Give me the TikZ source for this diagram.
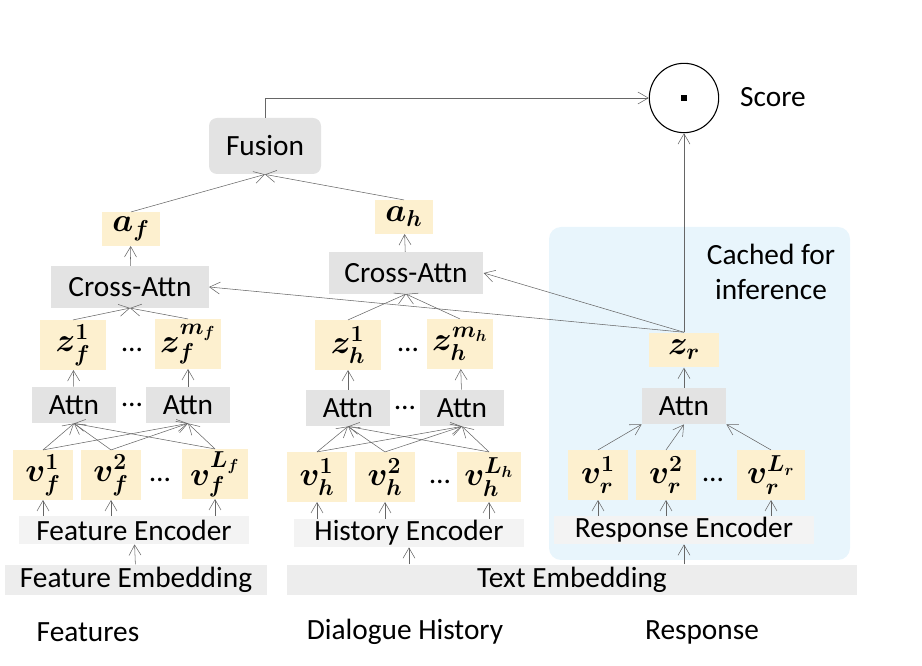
\documentclass[tikz,border=0pt]{standalone}
\usepackage{fontspec}
\setmainfont{Carlito}
\usetikzlibrary{arrows.meta}

\definecolor{boxgray}{HTML}{E3E3E3}
\definecolor{encgray}{HTML}{F3F3F3}
\definecolor{embgray}{HTML}{EDEDED}
\definecolor{vecyel}{HTML}{FDF0CF}
\definecolor{cacheblue}{HTML}{E8F5FC}

\begin{document}
\begin{tikzpicture}[x=0.75pt,y=-0.75pt,
    >={Straight Barb[angle=60:9pt]},semithick,
    every node/.style={font=\fontsize{22}{26}\selectfont},
    link/.style={->,draw=black!60,thin},
    op/.style={fill=boxgray,minimum height=31pt,inner sep=1pt},
    vec/.style={fill=vecyel,minimum width=45pt,minimum height=37pt,inner sep=0pt,
      font=\fontsize{24}{26}\selectfont\boldmath},
    enc/.style={fill=encgray,minimum height=21pt,inner sep=0pt},
    emb/.style={fill=embgray,minimum height=23pt,inner sep=0pt}]

  \useasboundingbox (0,0) rectangle (922,666);
  \fill[cacheblue,rounded corners=9pt] (549,227) rectangle (850,560);

  % score and fusion
  \node[circle,draw,thick,minimum size=52pt] (score) at (684,98) {};
  \fill (681,95) rectangle (687,101);
  \node (scoretxt) at (773,97) {Score};
  \node[op,rounded corners=6pt,minimum width=84pt,minimum height=42pt] (fusion) at (265,146) {Fusion};
  \node[vec,minimum width=44pt,minimum height=25pt] (af) at (131,229) {$a_f$};
  \node[vec,minimum width=44pt,minimum height=25pt] (ah) at (404,217) {$a_h$};
  \node[op,minimum width=118pt] (cf) at (130,287) {Cross-Attn};
  \node[op,minimum width=116pt] (ch) at (406,273) {Cross-Attn};
  \node[align=center] (cache) at (771,272) {Cached for\\inference};

  % z vectors
  \node[vec,minimum width=50pt] (zf1) at (73,345) {$z_f^1$};
  \node[vec,minimum width=50pt] (zfm) at (188,344) {$z_f^{m_f}$};
  \node at (132,350) {\dots};
  \node[vec,minimum width=50pt] (zh1) at (348,345) {$z_h^1$};
  \node[vec,minimum width=50pt] (zhm) at (460,344) {$z_h^{m_h}$};
  \node at (408,350) {\dots};
  \node[vec,minimum width=52pt,minimum height=26pt] (zr) at (684,350) {$z_r$};

  % attention
  \node[op,minimum width=63pt,minimum height=27pt] (af1) at (74,405) {Attn};
  \node[op,minimum width=63pt,minimum height=27pt] (af2) at (188,405) {Attn};
  \node at (132,405) {\dots};
  \node[op,minimum width=63pt,minimum height=27pt] (ah1) at (348,408) {Attn};
  \node[op,minimum width=63pt,minimum height=27pt] (ah2) at (462,408) {Attn};
  \node at (405,408) {\dots};
  \node[op,minimum width=63pt,minimum height=27pt] (ar) at (684,406) {Attn};

  % token vectors
  \node[vec] (vf1) at (43,475) {$v_f^1$};
  \node[vec] (vf2) at (111,475) {$v_f^2$};
  \node at (160,480) {\dots};
  \node[vec,minimum width=50pt] (vfL) at (215,474) {$v_f^{L_f}$};
  \node[vec] (vh1) at (317,477) {$v_h^1$};
  \node[vec] (vh2) at (385,477) {$v_h^2$};
  \node at (440,482) {\dots};
  \node[vec,minimum width=48pt] (vhL) at (489,477) {$v_h^{L_h}$};
  \node[vec] (vr1) at (598,475) {$v_r^1$};
  \node[vec] (vr2) at (666,475) {$v_r^2$};
  \node at (713,480) {\dots};
  \node[vec,minimum width=51pt] (vrL) at (771,475) {$v_r^{L_r}$};

  % encoders and embeddings
  \node[enc,minimum width=172pt] (fenc) at (134,530) {Feature Encoder};
  \node[enc,minimum width=172pt] (henc) at (409,533) {History Encoder};
  \node[enc,minimum width=195pt] (renc) at (684,530) {Response Encoder};
  \node[emb,minimum width=197pt] (femb) at (136,580) {Feature Embedding};
  \node[emb,minimum width=428pt] (temb) at (572,580) {Text Embedding};

  \node (lf) at (88,632) {Features};
  \node (lh) at (405,632) {Dialogue History};
  \node (lr) at (702,632) {Response};

  % connectors
  \draw[link] (femb) -- (fenc);
  \draw[link] (temb.north -| henc) -- (henc);
  \draw[link] (temb.north -| renc) -- (renc);
  \foreach \v in {vf1,vf2,vfL} \draw[link] (fenc.north -| \v) -- (\v);
  \foreach \v in {vh1,vh2,vhL} \draw[link] (henc.north -| \v) -- (\v);
  \foreach \v in {vr1,vr2,vrL} \draw[link] (renc.north -| \v) -- (\v);

  \foreach \a/\b/\c in {vf1/af1/af2,vf2/af1/af2,vfL/af1/af2,vh1/ah1/ah2,vh2/ah1/ah2,vhL/ah1/ah2}{
    \draw[link] (\a.north) -- (\b.south);
    \draw[link] (\a.north) -- (\c.south);
  }
  \draw[link] (vr1.north) -- (ar.south west);
  \draw[link] (vr2.north) -- (ar.south);
  \draw[link] (vrL.north) -- (ar.south east);

  \draw[link] (af1) -- (zf1);
  \draw[link] (af2) -- (zfm);
  \draw[link] (ah1) -- (zh1);
  \draw[link] (ah2) -- (zhm);
  \draw[link] (ar) -- (zr);

  \draw[link] (zf1.north) -- (cf.south);
  \draw[link] (zfm.north) -- (cf.south);
  \draw[link] (zh1.north) -- (ch.south);
  \draw[link] (zhm.north) -- (ch.south);
  \draw[link] (zr.north) -- (cf.east);
  \draw[link] (zr.north) -- (ch.east);
  \draw[link] (zr.north) -- (score.south);

  \draw[link] (cf) -- (af);
  \draw[link] (ch) -- (ah);
  \draw[link] (af.north) -- (fusion.south);
  \draw[link] (ah.north) -- (fusion.south);
  \draw[link] (fusion.north) |- (score.west);
\end{tikzpicture}
\end{document}
